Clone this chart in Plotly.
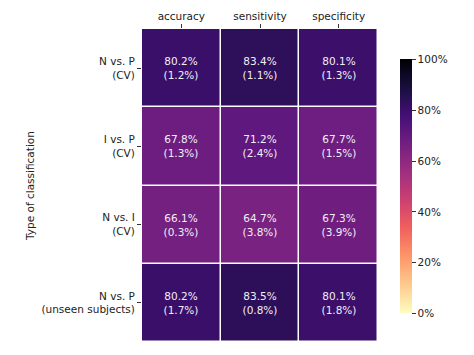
import plotly.graph_objects as go

metrics = ["accuracy", "sensitivity", "specificity"]
classifications = ["N vs. P<br>(CV)", "I vs. P<br>(CV)", "N vs. I<br>(CV)", "N vs. P<br>(unseen subjects)"]
mean_values = [
    [80.2, 83.4, 80.1],
    [67.8, 71.2, 67.7],
    [66.1, 64.7, 67.3],
    [80.2, 83.5, 80.1],
]
std_values = [
    [1.2, 1.1, 1.3],
    [1.3, 2.4, 1.5],
    [0.3, 3.8, 3.9],
    [1.7, 0.8, 1.8],
]
cbar_ticks = [0, 20, 40, 60, 80, 100]
cbar_labels = ["0%", "20%", "40%", "60%", "80%", "100%"]

text = [[f"{m:.1f}%<br>({s:.1f}%)" for m, s in zip(mr, sr)] for mr, sr in zip(mean_values, std_values)]

FS = 10.5

fig = go.Figure(go.Heatmap(
    z=mean_values,
    x=metrics,
    y=classifications,
    text=text,
    texttemplate="%{text}",
    textfont=dict(family="DejaVu Sans", size=FS, color="#f2eef5"),
    colorscale="Magma",
    reversescale=True,
    zmin=0, zmax=100,
    xgap=1.5, ygap=1.5,
    hoverinfo="skip",
    colorbar=dict(
        x=1.093, xanchor="left", xref="paper", xpad=0,
        y=0.497, yanchor="middle", ypad=0,
        len=0.81, lenmode="fraction",
        thickness=12,
        outlinewidth=0,
        tickvals=cbar_ticks, ticktext=cbar_labels,
        ticks="outside", ticklen=4, tickcolor="#333",
        tickfont=dict(family="DejaVu Sans", size=FS, color="#222"),
    ),
))

# page body has an 8px default margin, so the figure is offset by (8, 8)
fig.update_layout(
    width=458, height=339,
    margin=dict(l=134, r=88, t=21, b=5, autoexpand=False),
    paper_bgcolor="white", plot_bgcolor="white",
    font=dict(family="DejaVu Sans", size=FS, color="#222"),
    xaxis=dict(side="top", ticks="outside", ticklen=4, tickcolor="#333",
               showgrid=False, zeroline=False, showline=False, automargin=False),
    yaxis=dict(autorange="reversed", ticks="outside", ticklen=4, tickcolor="#333",
               showgrid=False, zeroline=False, showline=False, automargin=False,
               title=dict(text="Type of classification", standoff=4,
                          font=dict(family="DejaVu Sans", size=FS, color="#222"))),
)

fig.write_html("out.html")
